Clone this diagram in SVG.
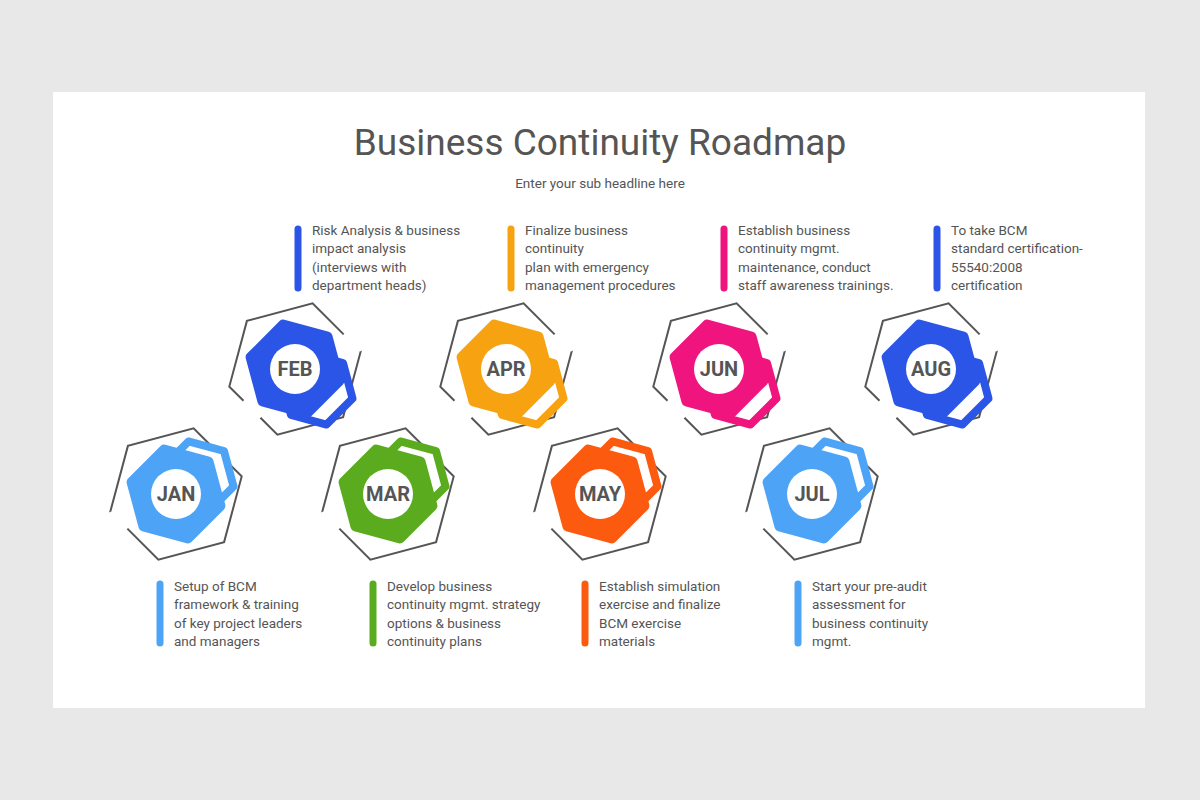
<svg xmlns="http://www.w3.org/2000/svg" width="1200" height="800" viewBox="0 0 1200 800">
<style>
.t{font-family:Roboto,"Liberation Sans",sans-serif;fill:#555;font-size:13.5px}
.m{font-family:Roboto,"Liberation Sans",sans-serif;fill:#555;font-size:20px;font-weight:bold;text-anchor:middle}
.o{fill:none;stroke:#555;stroke-width:2;stroke-dasharray:160 24 200 24}
.bar{stroke-width:7;stroke-linecap:round}
</style>
<defs>
<path id="hx" d="M44.4,11.9 L11.9,44.4 L-32.5,32.5 L-44.4,-11.9 L-11.9,-44.4 L32.5,-32.5 Z" stroke-linejoin="round" stroke-width="10"/>
<path id="ho" d="M65.7,17.6 L17.6,65.7 L-48.1,48.1 L-65.7,-17.6 L-17.6,-65.7 L48.1,-48.1 Z" class="o"/>
</defs>
<rect width="1200" height="800" fill="#e9e8e9"/>
<rect x="53" y="92" width="1092" height="616" fill="#fff"/>
<text x="600" y="155" font-family="Roboto,'Liberation Sans',sans-serif" font-size="37" fill="#555" text-anchor="middle">Business Continuity Roadmap</text>
<text x="600" y="188" class="t" text-anchor="middle" font-size="14">Enter your sub headline here</text>
<g id="jan" transform="translate(176,494)"><use href="#ho" transform="rotate(150)"/><use href="#hx" transform="translate(22,-17) scale(0.8)" fill="#fff" stroke="#4da3f5" stroke-width="12"/><use href="#hx" fill="#4da3f5" stroke="#4da3f5"/><circle r="25" fill="#fff"/><text class="m" y="7">JAN</text></g>
<g id="feb" transform="translate(295,369)"><use href="#ho" transform="rotate(-30)"/><use href="#hx" transform="translate(22,20) scale(0.8)" fill="#fff" stroke="#2b55e6" stroke-width="12"/><use href="#hx" fill="#2b55e6" stroke="#2b55e6"/><circle r="25" fill="#fff"/><text class="m" y="7">FEB</text></g>
<g id="mar" transform="translate(388,494)"><use href="#ho" transform="rotate(150)"/><use href="#hx" transform="translate(22,-17) scale(0.8)" fill="#fff" stroke="#5aab1e" stroke-width="12"/><use href="#hx" fill="#5aab1e" stroke="#5aab1e"/><circle r="25" fill="#fff"/><text class="m" y="7">MAR</text></g>
<g id="apr" transform="translate(506,369)"><use href="#ho" transform="rotate(-30)"/><use href="#hx" transform="translate(22,20) scale(0.8)" fill="#fff" stroke="#f7a311" stroke-width="12"/><use href="#hx" fill="#f7a311" stroke="#f7a311"/><circle r="25" fill="#fff"/><text class="m" y="7">APR</text></g>
<g id="may" transform="translate(600,494)"><use href="#ho" transform="rotate(150)"/><use href="#hx" transform="translate(22,-17) scale(0.8)" fill="#fff" stroke="#fb5a0f" stroke-width="12"/><use href="#hx" fill="#fb5a0f" stroke="#fb5a0f"/><circle r="25" fill="#fff"/><text class="m" y="7">MAY</text></g>
<g id="jun" transform="translate(719,369)"><use href="#ho" transform="rotate(-30)"/><use href="#hx" transform="translate(22,20) scale(0.8)" fill="#fff" stroke="#f0147f" stroke-width="12"/><use href="#hx" fill="#f0147f" stroke="#f0147f"/><circle r="25" fill="#fff"/><text class="m" y="7">JUN</text></g>
<g id="jul" transform="translate(812,494)"><use href="#ho" transform="rotate(150)"/><use href="#hx" transform="translate(22,-17) scale(0.8)" fill="#fff" stroke="#4da3f5" stroke-width="12"/><use href="#hx" fill="#4da3f5" stroke="#4da3f5"/><circle r="25" fill="#fff"/><text class="m" y="7">JUL</text></g>
<g id="aug" transform="translate(931,369)"><use href="#ho" transform="rotate(-30)"/><use href="#hx" transform="translate(22,20) scale(0.8)" fill="#fff" stroke="#2b55e6" stroke-width="12"/><use href="#hx" fill="#2b55e6" stroke="#2b55e6"/><circle r="25" fill="#fff"/><text class="m" y="7">AUG</text></g>
<g id="txt-top">
<line class="bar" x1="298" y1="229" x2="298" y2="288" stroke="#2b55e6"/>
<text class="t" x="312" y="235"><tspan x="312">Risk Analysis &amp; business</tspan><tspan x="312" dy="18.3">impact analysis</tspan><tspan x="312" dy="18.3">(interviews with</tspan><tspan x="312" dy="18.3">department  heads)</tspan></text>
<line class="bar" x1="511" y1="229" x2="511" y2="288" stroke="#f7a311"/>
<text class="t" x="525" y="235"><tspan x="525">Finalize business</tspan><tspan x="525" dy="18.3">continuity</tspan><tspan x="525" dy="18.3">plan with emergency</tspan><tspan x="525" dy="18.3">management  procedures</tspan></text>
<line class="bar" x1="724" y1="229" x2="724" y2="288" stroke="#f0147f"/>
<text class="t" x="738" y="235"><tspan x="738">Establish business</tspan><tspan x="738" dy="18.3">continuity mgmt.</tspan><tspan x="738" dy="18.3">maintenance,  conduct</tspan><tspan x="738" dy="18.3">staff awareness trainings.</tspan></text>
<line class="bar" x1="937" y1="229" x2="937" y2="288" stroke="#2b55e6"/>
<text class="t" x="951" y="235"><tspan x="951">To take BCM</tspan><tspan x="951" dy="18.3">standard certification-</tspan><tspan x="951" dy="18.3">55540:2008</tspan><tspan x="951" dy="18.3">certification</tspan></text>
</g>
<g id="txt-bottom">
<line class="bar" x1="160" y1="584" x2="160" y2="643" stroke="#4da3f5"/>
<text class="t" x="174" y="591"><tspan x="174">Setup of BCM</tspan><tspan x="174" dy="18.3">framework &amp; training</tspan><tspan x="174" dy="18.3">of key project  leaders</tspan><tspan x="174" dy="18.3">and managers</tspan></text>
<line class="bar" x1="373" y1="584" x2="373" y2="643" stroke="#5aab1e"/>
<text class="t" x="387" y="591"><tspan x="387">Develop business</tspan><tspan x="387" dy="18.3">continuity mgmt. strategy</tspan><tspan x="387" dy="18.3">options  &amp; business</tspan><tspan x="387" dy="18.3">continuity plans</tspan></text>
<line class="bar" x1="585" y1="584" x2="585" y2="643" stroke="#fb5a0f"/>
<text class="t" x="599" y="591"><tspan x="599">Establish simulation</tspan><tspan x="599" dy="18.3">exercise and finalize</tspan><tspan x="599" dy="18.3">BCM exercise</tspan><tspan x="599" dy="18.3">materials</tspan></text>
<line class="bar" x1="798" y1="584" x2="798" y2="643" stroke="#4da3f5"/>
<text class="t" x="812" y="591"><tspan x="812">Start your pre-audit</tspan><tspan x="812" dy="18.3">assessment for</tspan><tspan x="812" dy="18.3">business continuity</tspan><tspan x="812" dy="18.3">mgmt.</tspan></text>
</g>
</svg>
